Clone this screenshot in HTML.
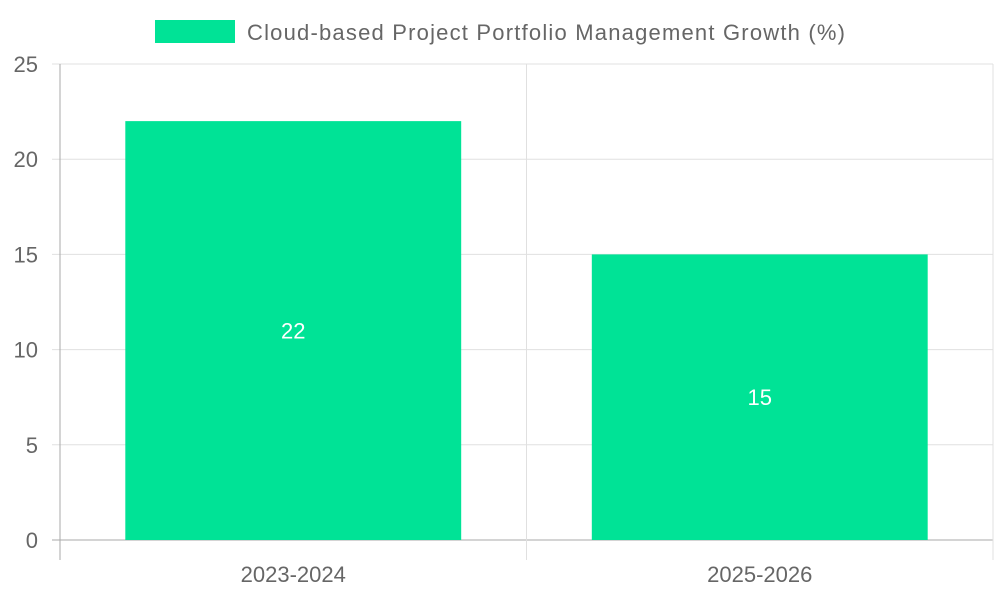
<!DOCTYPE html>
<html><head><meta charset="utf-8"><style>
html,body{margin:0;padding:0;background:#fff;}
svg{display:block;font-family:"Liberation Sans",sans-serif;}
</style></head><body>
<svg id="chart" width="1000" height="600">
<g id="grid"></g>
<g id="bars"></g>
<g id="axes"></g>
<g>
<rect x="155" y="20" width="80" height="23" fill="#00e396"></rect>
<text x="247" y="40" font-size="22" fill="#666" textLength="598">Cloud-based Project Portfolio Management Growth (%)</text>
</g>
</svg>
<script>
const categories = ["2023-2024", "2025-2026"];
const values = [22, 15];
const yTicks = [0, 5, 10, 15, 20, 25];
const NS = "http://www.w3.org/2000/svg";
const L = 60, R = 993, T = 64, B = 540, yMax = 25;
const y = v => B - (v / yMax) * (B - T);
const band = (R - L) / categories.length;
const xC = i => L + band * (i + 0.5);
function mk(tag, attrs, parent, txt) {
  const e = document.createElementNS(NS, tag);
  for (const k in attrs) e.setAttribute(k, attrs[k]);
  if (txt !== undefined) e.textContent = txt;
  document.getElementById(parent).appendChild(e);
  return e;
}
yTicks.forEach(t => {
  const ln = mk("line", {x1: 52, x2: R, y1: y(t), y2: y(t), stroke: t === 0 ? "#aaa" : "#e0e0e0", "stroke-width": 1}, "grid");
  
  
  const lb = mk("text", {x: 38, y: y(t) + 8, "font-size": 22, fill: "#666", "text-anchor": "end"}, "axes", String(t));
  
  
});
for (let i = 0; i <= categories.length; i++) {
  const x = L + band * i;
  const ln = mk("line", {x1: x, x2: x, y1: T, y2: 560, stroke: i === 0 ? "#aaa" : "#e0e0e0", "stroke-width": 1}, "grid");
  
  
}
categories.forEach((c, i) => {
  const w = band * 0.72;
  const r = mk("rect", {x: xC(i) - w / 2, y: y(values[i]), width: w, height: B - y(values[i]), fill: "#00e396"}, "bars");
  
  
  const v = mk("text", {x: xC(i), y: (y(values[i]) + B) / 2 + 8, "font-size": 22, fill: "#fff", "text-anchor": "middle"}, "bars", String(values[i]));
  
  
  const lb = mk("text", {x: xC(i), y: 582, "font-size": 22, fill: "#666", "text-anchor": "middle"}, "axes", c);
  
  
});
</script>
</body></html>
